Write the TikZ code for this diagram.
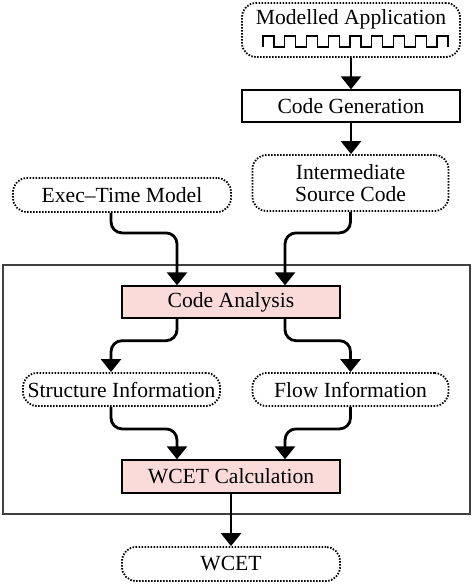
\documentclass[tikz,border=0pt]{standalone}
\usepackage{fontspec}
\setmainfont{Liberation Serif}
\usetikzlibrary{arrows.meta,calc}
\definecolor{pinkfill}{HTML}{FBDADA}
\definecolor{framegray}{HTML}{404040}
\tikzset{
  every node/.style={font=\fontsize{21.6}{22}\selectfont, inner sep=0pt, align=center},
  dotbox/.style={draw, line width=1.8pt, dash pattern=on 1.5pt off 1.5pt, rounded corners=14pt},
  plainbox/.style={draw, line width=1.4pt},
  pinkbox/.style={draw, line width=1.4pt, fill=pinkfill},
  arr/.style={line width=2.8pt, -{Triangle[width=20pt,length=13pt]}, rounded corners=11pt},
}
\begin{document}
\begin{tikzpicture}[x=1pt,y=1pt]
\useasboundingbox (0,0) rectangle (474,-585);
% frame
\draw[framegray, line width=1.4pt] (3,-265) rectangle (470,-514);
% nodes
\node[dotbox, minimum width=218pt, minimum height=54pt] (app) at (351,-30) {};
\node (apptext) at (351,-19) {Modelled Application};
\draw[line width=1.2pt] (263,-47) foreach \i in {1,...,8}{ -- ++(0,11) -- ++(11,0) -- ++(0,-11) -- ++(10.75,0)} -- ++(0,11) -- ++(11,0) -- ++(0,-11);
\node[plainbox, minimum width=218pt, minimum height=32pt] (cg) at (351,-106) {Code Generation};
\node[dotbox, minimum width=196pt, minimum height=56pt] (isc) at (350.5,-183) {Intermediate\\Source Code};
\node[dotbox, minimum width=218pt, minimum height=34pt] (et) at (122,-195) {Exec\textendash Time Model};
\node[pinkbox, minimum width=218pt, minimum height=32pt] (ca) at (231,-302) {Code Analysis};
\node[dotbox, minimum width=197pt, minimum height=33pt] (si) at (121.5,-389.5) {Structure Information};
\node[dotbox, minimum width=196pt, minimum height=33pt] (fi) at (350.5,-389.5) {Flow Information};
\node[pinkbox, minimum width=218pt, minimum height=33pt] (wc) at (231,-476.5) {WCET Calculation};
\node[dotbox, minimum width=218pt, minimum height=34pt] (wcet) at (231,-564) {WCET};
% connectors
\draw[arr] (app.south) -- (cg.north);
\draw[arr] (cg.south) -- (cg.south |- isc.north);
\draw[arr] ([xshift=-11pt]et.south) -- ++(0,-20) -| ([xshift=-54pt]ca.north);
\draw[arr] (isc.south) -- ++(0,-21) -| ([xshift=54pt]ca.north);
\draw[arr] ([xshift=-54pt]ca.south) -- ++(0,-22) -| ([xshift=-10.5pt]si.north);
\draw[arr] ([xshift=54pt]ca.south) -- ++(0,-22) -| (fi.north);
\draw[arr] ([xshift=-10.5pt]si.south) -- ++(0,-22) -| ([xshift=-54pt]wc.north);
\draw[arr] (fi.south) -- ++(0,-22) -| ([xshift=54pt]wc.north);
\draw[arr] (wc.south) -- (wcet.north);
\end{tikzpicture}
\end{document}
